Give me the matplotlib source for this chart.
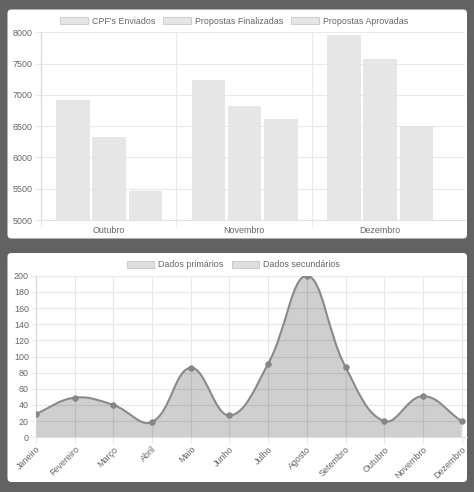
import numpy as np
import matplotlib.pyplot as plt
from matplotlib.patches import FancyBboxPatch, Patch, PathPatch
from matplotlib.path import Path

plt.rcParams['font.family'] = ['Liberation Sans', 'DejaVu Sans']

# top chart data
bar_cats = ["Outubro", "Novembro", "Dezembro"]
bar_series = ["CPF's Enviados", "Propostas Finalizadas", "Propostas Aprovadas"]
cpf_enviados = [6920, 7240, 7960]
propostas_finalizadas = [6330, 6830, 7580]
propostas_aprovadas = [5460, 6610, 6500]

# bottom chart data
months = ["Janeiro", "Fevereiro", "Março", "Abril", "Maio", "Junho",
          "Julho", "Agosto", "Setembro", "Outubro", "Novembro", "Dezembro"]
dados_primarios = [29, 49, 40, 19, 86, 27, 91, 200, 87, 20, 51, 20]
line_labels = ["Dados primários", "Dados secundários"]

W, H = 474, 492
TXT = '#666666'
GRID = '#e8e8e8'
FS = 6.4

fig = plt.figure(figsize=(W / 100, H / 100), dpi=100, facecolor='#626262')


def panel(x0, y0, x1, y1):
    p = FancyBboxPatch((x0 / W, 1 - y1 / H), (x1 - x0) / W, (y1 - y0) / H,
                       boxstyle='round,pad=0,rounding_size=0.008',
                       transform=fig.transFigure, facecolor='white',
                       edgecolor='none', zorder=0)
    fig.add_artist(p)


panel(7.5, 9.5, 467, 238.5)
panel(7.5, 253, 467, 482)

# ---------------- top: grouped bars ----------------
ax1 = fig.add_axes([41 / W, 1 - 220 / H, (465 - 41) / W, (220 - 32.3) / H])
ax1.patch.set_visible(False)
x = np.arange(len(bar_cats))
offsets = [-0.267, 0, 0.267]
for off, vals in zip(offsets, [cpf_enviados, propostas_finalizadas, propostas_aprovadas]):
    ax1.bar(x + off, vals, width=0.24, color='#e6e6e6', edgecolor='#e2e2e2',
            linewidth=0.5, zorder=2)
ax1.set_ylim(5000, 8000)
ax1.set_xlim(-0.5, 2.63)
ax1.set_yticks(range(5000, 8001, 500))
ax1.set_xticks(x)
ax1.set_xticklabels(bar_cats)
ax1.set_xticks([-0.5, 0.5, 1.5], minor=True)
ax1.grid(axis='y', color=GRID, linewidth=0.8, zorder=0)
ax1.grid(axis='x', which='minor', color=GRID, linewidth=0.8, zorder=0)
ax1.grid(axis='x', which='major', visible=False)
for s in ['top', 'right']:
    ax1.spines[s].set_visible(False)
ax1.spines['left'].set_color('#d8d8d8')
ax1.spines['bottom'].set_color('#e2e2e2')
ax1.tick_params(axis='y', length=4.3, color=GRID, pad=1.5, labelsize=FS, labelcolor=TXT)
ax1.tick_params(axis='x', which='major', length=0, pad=4.5, labelsize=FS, labelcolor=TXT)
ax1.tick_params(axis='x', which='minor', length=5, color=GRID)

handles1 = [Patch(facecolor='#e6e6e6', edgecolor='#d0d0d0', linewidth=0.8, label=l)
            for l in bar_series]
fig.legend(handles=handles1, loc='center', bbox_to_anchor=(234 / W, 1 - 21.5 / H),
           ncol=3, frameon=False, fontsize=FS, handlelength=3.1, handleheight=0.85,
           handletextpad=0.45, columnspacing=0.9, labelcolor=TXT, borderpad=0)

# ---------------- bottom: smooth area line ----------------
ax2 = fig.add_axes([36 / W, 1 - 437.3 / H, (467 - 36) / W, 161.6 / H])
ax2.patch.set_visible(False)
ax2.set_xlim(0, 11.14)
ax2.set_ylim(0, 200)

# chart.js style bezier control points (tension 0.4)
xs = np.arange(len(months), dtype=float)
ys = np.array(dados_primarios, dtype=float)
sx, sy = 38.7, 161.6 / 200
tension = 0.4
cp_prev, cp_next = [], []
for i in range(len(xs)):
    p = max(i - 1, 0)
    n = min(i + 1, len(xs) - 1)
    d01 = np.hypot((xs[i] - xs[p]) * sx, (ys[i] - ys[p]) * sy)
    d12 = np.hypot((xs[n] - xs[i]) * sx, (ys[n] - ys[i]) * sy)
    tot = d01 + d12
    s01 = d01 / tot if tot else 0
    s12 = d12 / tot if tot else 0
    fa, fb = tension * s01, tension * s12
    dx, dy = xs[n] - xs[p], ys[n] - ys[p]
    cp_prev.append((xs[i] - fa * dx, min(max(ys[i] - fa * dy, 0), 200)))
    cp_next.append((xs[i] + fb * dx, min(max(ys[i] + fb * dy, 0), 200)))

verts = [(xs[0], ys[0])]
codes = [Path.MOVETO]
for i in range(len(xs) - 1):
    verts += [cp_next[i], cp_prev[i + 1], (xs[i + 1], ys[i + 1])]
    codes += [Path.CURVE4] * 3
line_path = Path(verts, codes)
fill_path = Path(verts + [(xs[-1], 0), (xs[0], 0), (xs[0], ys[0])],
                 codes + [Path.LINETO, Path.LINETO, Path.CLOSEPOLY])
ax2.add_patch(PathPatch(fill_path, facecolor=(0, 0, 0, 0.19), edgecolor='none', zorder=2))
ax2.add_patch(PathPatch(line_path, facecolor='none', edgecolor='#8a8a8a', linewidth=1.5, zorder=3))
ax2.scatter(xs, ys, s=16, color='#888888', edgecolors='#7e7e7e', linewidths=0.5, zorder=4)

ax2.set_yticks(range(0, 201, 20))
ax2.set_xticks(xs)
ax2.set_xticklabels(months)
plt.setp(ax2.get_xticklabels(), rotation=45, ha='right', rotation_mode='anchor')
ax2.grid(color=GRID, linewidth=0.8, zorder=0)
for s in ['top', 'right']:
    ax2.spines[s].set_visible(False)
ax2.spines['left'].set_color('#d5d5d5')
ax2.spines['bottom'].set_color('#e0e0e0')
ax2.tick_params(axis='y', length=3.6, color=GRID, pad=1.5, labelsize=FS, labelcolor=TXT)
ax2.tick_params(axis='x', length=4.3, color=GRID, pad=1.0, labelsize=FS, labelcolor=TXT)

handles2 = [Patch(facecolor='#e0e0e0', edgecolor='#cccccc', linewidth=0.8, label=l)
            for l in line_labels]
fig.legend(handles=handles2, loc='center', bbox_to_anchor=(233.5 / W, 1 - 264.7 / H),
           ncol=2, frameon=False, fontsize=FS, handlelength=3.1, handleheight=0.85,
           handletextpad=0.45, columnspacing=0.9, labelcolor=TXT, borderpad=0)

fig.savefig('out.png', dpi=100, facecolor=fig.get_facecolor())
